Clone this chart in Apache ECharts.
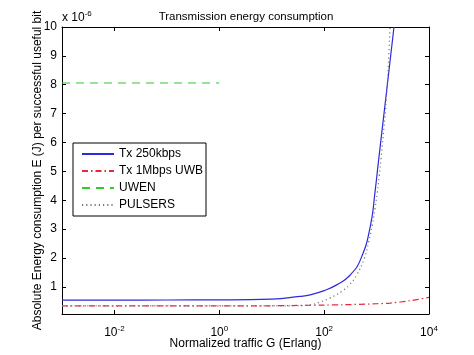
<!DOCTYPE html>
<html>
<head>
<meta charset="utf-8">
<script src="https://cdn.jsdelivr.net/npm/echarts@6/dist/echarts.min.js"></script>
<style>html,body{margin:0;padding:0;background:#fff}#c{width:474px;height:355px}</style>
</head>
<body>
<div id="c"></div>
<script>
// Values in units of 1e-6 J
const xTickValues = [0.01, 1, 100, 10000];
const yTickValues = [1, 2, 3, 4, 5, 6, 7, 8, 9, 10];

const G_tx250 = [0.001, 0.01, 0.1, 1, 10, 34.6, 53.7, 100, 173, 311, 505, 766, 933, 1099, 1514, 2148];
const E_tx250 = [0.54, 0.54, 0.545, 0.55, 0.577, 0.67, 0.721, 0.869, 1.069, 1.402, 1.987, 3.132, 4.281, 5.426, 7.603, 10];

const G_uwb = [0.001, 0.01, 0.1, 1, 10, 100, 224, 1000, 1820, 4365, 10000];
const E_uwb = [0.34, 0.34, 0.34, 0.34, 0.345, 0.37, 0.38, 0.415, 0.44, 0.52, 0.635];

const G_uwen = [0.001, 1];
const E_uwen = [8.06, 8.06];

const G_pulsers = [0.001, 0.01, 0.1, 1, 10, 27.8, 53.7, 83.4, 129, 216, 302, 418, 583, 708, 826, 933, 1033, 1127, 1213, 1545, 1803];
const E_pulsers = [0.34, 0.34, 0.34, 0.34, 0.342, 0.347, 0.381, 0.474, 0.611, 0.842, 1.069, 1.413, 1.987, 2.561, 3.132, 3.706, 4.281, 4.851, 5.426, 7.603, 10];

const seriesNames = ['Tx 250kbps', 'Tx 1Mbps UWB', 'UWEN', 'PULSERS'];

function pairs(xs, ys) { return xs.map((x, i) => [x, ys[i]]); }

const FONT = 'Liberation Sans, Arial, Helvetica, sans-serif';
const chart = echarts.init(document.getElementById('c'));

const supRich = {
  b: { fontSize: 12, fontFamily: FONT, color: '#000' },
  s: { fontSize: 8, fontFamily: FONT, color: '#000', padding: [0, 0, 8, 0] }
};

const baseX = {
  type: 'log', logBase: 10, min: 0.001, max: 10000,
  axisLine: { show: true, lineStyle: { color: '#000', width: 1 } },
  axisTick: { show: true, inside: true, length: 4, customValues: xTickValues, lineStyle: { color: '#000' } },
  splitLine: { show: false }, minorTick: { show: false }
};
const baseY = {
  type: 'value', min: 0.06, max: 10,
  axisLine: { show: true, lineStyle: { color: '#000', width: 1 } },
  axisTick: { show: true, inside: true, length: 4, customValues: yTickValues, lineStyle: { color: '#000' } },
  splitLine: { show: false }
};

chart.setOption({
  animation: false,
  backgroundColor: '#fff',
  title: {
    text: 'Transmission energy consumption',
    left: 241, top: 6, textAlign: 'center',
    textStyle: { fontFamily: FONT, fontSize: 11.5, fontWeight: 'normal', color: '#000' }
  },
  graphic: [{
    type: 'text', left: 62, top: 10,
    style: { text: '{b|x 10}{s|-6}', rich: { b: { fontSize: 12, fontFamily: FONT, fill: '#000' }, s: { fontSize: 8, fontFamily: FONT, fill: '#000', padding: [0, 0, 8, 0] } } }
  }],
  grid: { left: 62, right: 45, top: 27, bottom: 39, containLabel: false },
  legend: {
    orient: 'vertical', left: 73, top: 143,
    data: seriesNames,
    itemWidth: 32, itemHeight: 10, itemGap: 5,
    padding: [5, 3, 5, 8],
    borderColor: '#000', borderWidth: 1, backgroundColor: '#fff',
    itemStyle: { opacity: 0 },
    textStyle: { fontFamily: FONT, fontSize: 12, color: '#000' }
  },
  xAxis: [
    Object.assign({}, baseX, {
      position: 'bottom',
      name: 'Normalized traffic G (Erlang)', nameLocation: 'middle', nameGap: 24, nameMoveOverlap: false,
      nameTextStyle: { fontFamily: FONT, fontSize: 12, color: '#000' },
      axisLabel: {
        show: true, customValues: xTickValues, margin: 11,
        formatter: v => '{b|10}{s|' + Math.round(Math.log10(v)) + '}',
        rich: supRich
      }
    }),
    Object.assign({}, baseX, { position: 'top', axisLabel: { show: false } })
  ],
  yAxis: [
    Object.assign({}, baseY, {
      position: 'left',
      name: 'Absolute Energy consumption E (J) per successful useful bit',
      nameLocation: 'middle', nameGap: 18, nameMoveOverlap: false,
      nameTextStyle: { fontFamily: FONT, fontSize: 12, color: '#000' },
      axisLabel: {
        show: true, customValues: yTickValues, margin: 5, fontFamily: FONT, fontSize: 12, color: '#000',
        formatter: v => String(Math.round(v))
      }
    }),
    Object.assign({}, baseY, { position: 'right', axisLabel: { show: false } })
  ],
  series: [
    { name: seriesNames[0], type: 'line', data: pairs(G_tx250, E_tx250), symbol: 'none', smooth: 0.5,
      lineStyle: { color: '#2b2bdc', width: 1.2, type: 'solid' }, itemStyle: { color: '#2b2bdc' } },
    { name: seriesNames[1], type: 'line', data: pairs(G_uwb, E_uwb), symbol: 'none', smooth: 0.3,
      lineStyle: { color: '#e8283c', width: 1.2, type: [6, 3, 1.5, 3] }, itemStyle: { color: '#e8283c' } },
    { name: seriesNames[2], type: 'line', data: pairs(G_uwen, E_uwen), symbol: 'none',
      lineStyle: { color: '#2ccc2c', width: 1.2, type: [8, 6] }, itemStyle: { color: '#2ccc2c' } },
    { name: seriesNames[3], type: 'line', data: pairs(G_pulsers, E_pulsers), symbol: 'none', smooth: 0.5,
      lineStyle: { color: '#777', width: 1.2, type: [1.2, 3] }, itemStyle: { color: '#777' } }
  ]
});
</script>
</body>
</html>
